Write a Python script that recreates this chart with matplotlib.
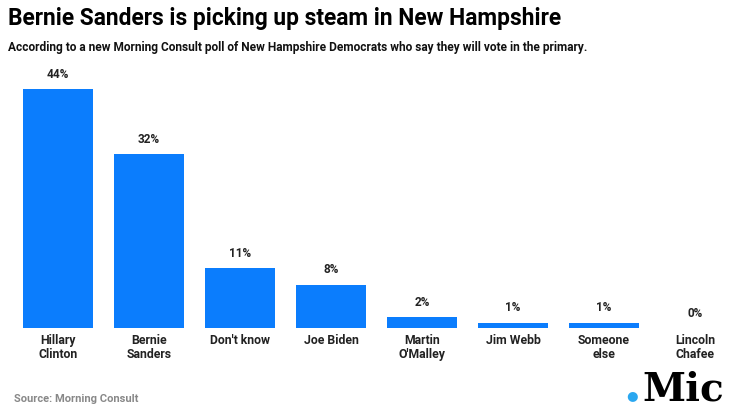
import matplotlib.pyplot as plt

candidates = ["Hillary\nClinton", "Bernie\nSanders", "Don't know", "Joe Biden",
              "Martin\nO'Malley", "Jim Webb", "Someone\nelse", "Lincoln\nChafee"]
support = [44, 32, 11, 8, 2, 1, 1, 0]

plt.rcParams['font.family'] = ['Roboto', 'DejaVu Sans']

fig = plt.figure(figsize=(7.32, 4.11), dpi=100)
ax = fig.add_axes([0, 83 / 411, 1, 239 / 411])

x = range(len(support))
ax.bar(x, support, width=0.76, color='#0b7dfd')
ax.set_xlim(-58 / 91, (732 - 58) / 91)
ax.set_ylim(0, 44)

for i, v in zip(x, support):
    ax.text(i, v + 1.5, f"{v}%", ha='center', va='bottom', fontsize=8.5,
            fontweight='bold', color='#222222', clip_on=False)

ax.set_xticks(list(x))
ax.set_xticklabels(candidates, fontsize=8.8, fontweight='bold', color='#222222',
                   linespacing=1.1)
ax.tick_params(axis='x', length=0, pad=4)
ax.set_yticks([])
for s in ax.spines.values():
    s.set_visible(False)

fig.text(8 / 732, 1 - 18 / 411, "Bernie Sanders is picking up steam in New Hampshire",
         fontsize=16.4, fontweight='bold', va='center', ha='left')
fig.text(8 / 732, 1 - 47 / 411,
         "According to a new Morning Consult poll of New Hampshire Democrats who say they will vote in the primary.",
         fontsize=8.6, fontweight='bold', va='center', ha='left', color='#111111')
fig.text(14 / 732, 1 - 399 / 411, "Source: Morning Consult", fontsize=8,
         fontweight='bold', color='#888888', va='center', ha='left')

# logo
fig.text(724 / 732, 1 - 400 / 411, "Mic", fontsize=28, fontweight='heavy',
         family='DejaVu Serif', color='black', va='baseline', ha='right')
fig.text(632 / 732, 1 - 396 / 411, "\u25CF", fontsize=9.5, color='#2aa7f0',
         va='center', ha='center', family='DejaVu Sans')

fig.savefig('out.png', dpi=100)
